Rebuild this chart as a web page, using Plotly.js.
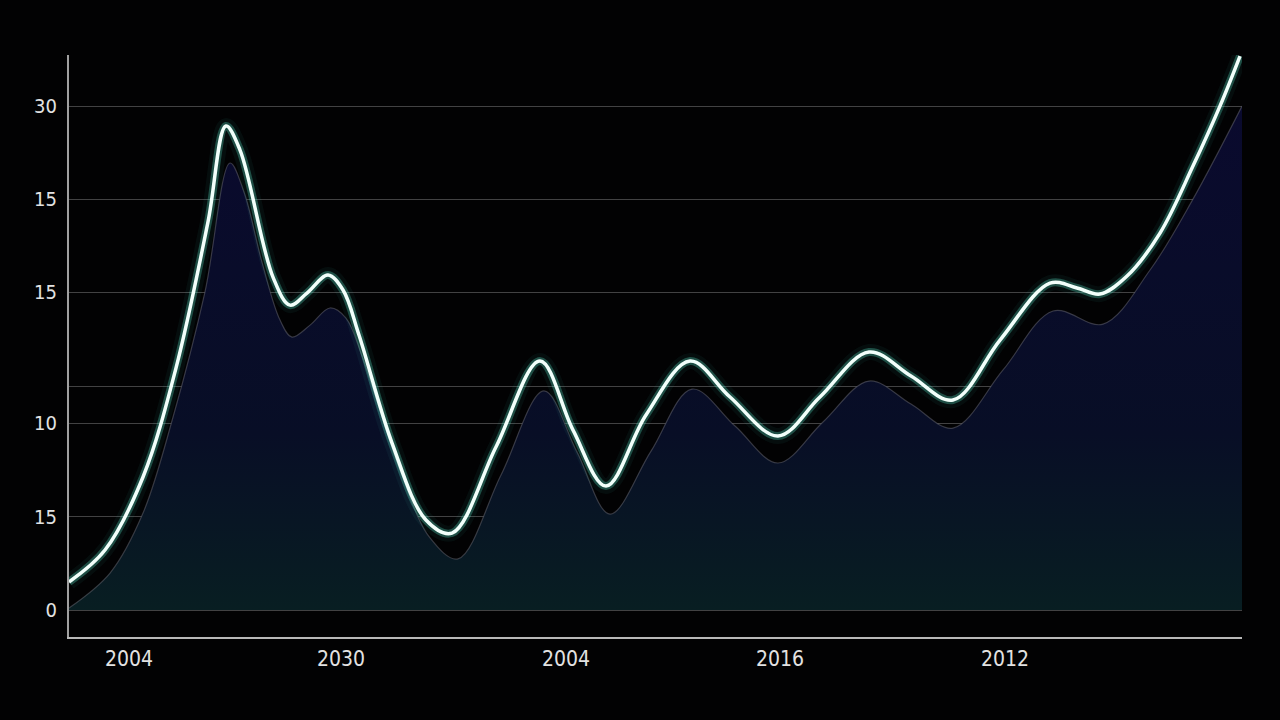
<!DOCTYPE html>
<html>
<head>
<meta charset="utf-8">
<script src="https://cdn.plot.ly/plotly-3.0.1.min.js"></script>
<style>
html,body{margin:0;padding:0;background:#020203;}
#chart{width:1280px;height:720px;}
</style>
</head>
<body>
<div id="chart"></div>
<script>
// Horizontal position (0..100 across the plot) and values
const lineX = [0.00, 3.07, 6.31, 9.12, 11.85, 13.38, 14.58, 17.39, 18.84, 20.29, 22.08, 23.36, 24.72, 27.54, 30.43, 32.65, 36.40, 40.15, 42.97, 45.78, 49.19, 52.94, 56.35, 60.44, 64.02, 68.20, 71.78, 75.36, 79.37, 83.63, 85.93, 87.89, 90.20, 93.01, 95.82, 98.12, 99.83];
const lineY = [1.67, 3.57, 7.92, 14.40, 23.10, 28.81, 27.38, 19.82, 18.15, 18.87, 19.94, 19.05, 16.37, 9.94, 5.36, 4.58, 9.70, 14.82, 10.71, 7.38, 11.61, 14.82, 12.68, 10.36, 12.68, 15.36, 13.93, 12.50, 16.07, 19.46, 19.17, 18.81, 19.88, 22.44, 26.43, 30.00, 32.98];

const shadowX = [0.00, 3.50, 6.31, 8.87, 11.59, 13.73, 14.92, 16.45, 17.99, 19.01, 20.55, 22.25, 23.61, 24.98, 28.22, 30.78, 33.16, 36.83, 40.49, 43.31, 46.12, 49.62, 53.11, 56.78, 60.44, 64.28, 68.20, 71.78, 75.36, 79.63, 83.89, 88.15, 92.16, 95.82, 100.00];
const shadowY = [0.12, 2.20, 5.77, 11.49, 18.93, 26.61, 24.88, 20.71, 17.26, 16.25, 16.96, 17.98, 17.38, 15.12, 8.33, 4.29, 3.04, 8.04, 13.04, 9.40, 5.71, 9.46, 13.15, 10.95, 8.75, 11.19, 13.63, 12.26, 10.83, 14.29, 17.80, 17.02, 20.24, 24.46, 30.00];

// Axis ticks (labels as printed in the picture)
const xTickVals = [5.12, 23.19, 42.37, 60.61, 79.80];
const xTickText = ['2004', '2030', '2004', '2016', '2012'];
const yTickVals = [0, 5.54, 11.13, 13.33, 18.93, 24.46, 30];
const yTickText = ['0', '15', '10', '', '15', '15', '30'];

const fontFam = 'DejaVu Sans Condensed, Liberation Sans Narrow, sans-serif';
const lineShape = {shape: 'spline', smoothing: 1};

const traces = [
  {
    x: shadowX, y: shadowY, type: 'scatter', mode: 'lines',
    line: Object.assign({width: 1.2, color: 'rgba(105,105,115,0.5)'}, lineShape),
    fill: 'tozeroy',
    fillgradient: {type: 'vertical', colorscale: [[0, 'rgb(8,30,34)'], [0.35, 'rgb(8,14,38)'], [1, 'rgb(10,10,46)']]},
    hoverinfo: 'skip'
  },
  {
    x: lineX, y: lineY, type: 'scatter', mode: 'lines',
    line: Object.assign({width: 16, color: 'rgba(50,170,150,0.07)'}, lineShape),
    hoverinfo: 'skip'
  },
  {
    x: lineX, y: lineY, type: 'scatter', mode: 'lines',
    line: Object.assign({width: 8, color: 'rgba(90,230,200,0.30)'}, lineShape),
    hoverinfo: 'skip'
  },
  {
    x: lineX, y: lineY, type: 'scatter', mode: 'lines',
    line: Object.assign({width: 3.5, color: '#f2fffb'}, lineShape),
    hoverinfo: 'skip'
  }
];

const layout = {
  width: 1280, height: 720,
  paper_bgcolor: '#020203', plot_bgcolor: '#020203',
  margin: {l: 69, r: 38, t: 55, b: 83},
  showlegend: false,
  xaxis: {
    range: [0, 100], showgrid: false, zeroline: false,
    showline: true, linecolor: '#b8b8b8', linewidth: 2,
    tickvals: xTickVals, ticktext: xTickText, ticks: '',
    ticklabelstandoff: 2,
    tickfont: {family: fontFam, size: 21, color: '#e2e2e2'}
  },
  yaxis: {
    range: [-1.607, 33.04], zeroline: false,
    showline: true, linecolor: '#a0a0a0', linewidth: 2,
    showgrid: true, gridcolor: 'rgba(120,120,120,0.55)', gridwidth: 1,
    tickvals: yTickVals, ticktext: yTickText, ticks: '',
    ticklabelstandoff: 6,
    tickfont: {family: fontFam, size: 20, color: '#e2e2e2'}
  }
};

Plotly.newPlot('chart', traces, layout, {staticPlot: true, displayModeBar: false});
</script>
</body>
</html>
